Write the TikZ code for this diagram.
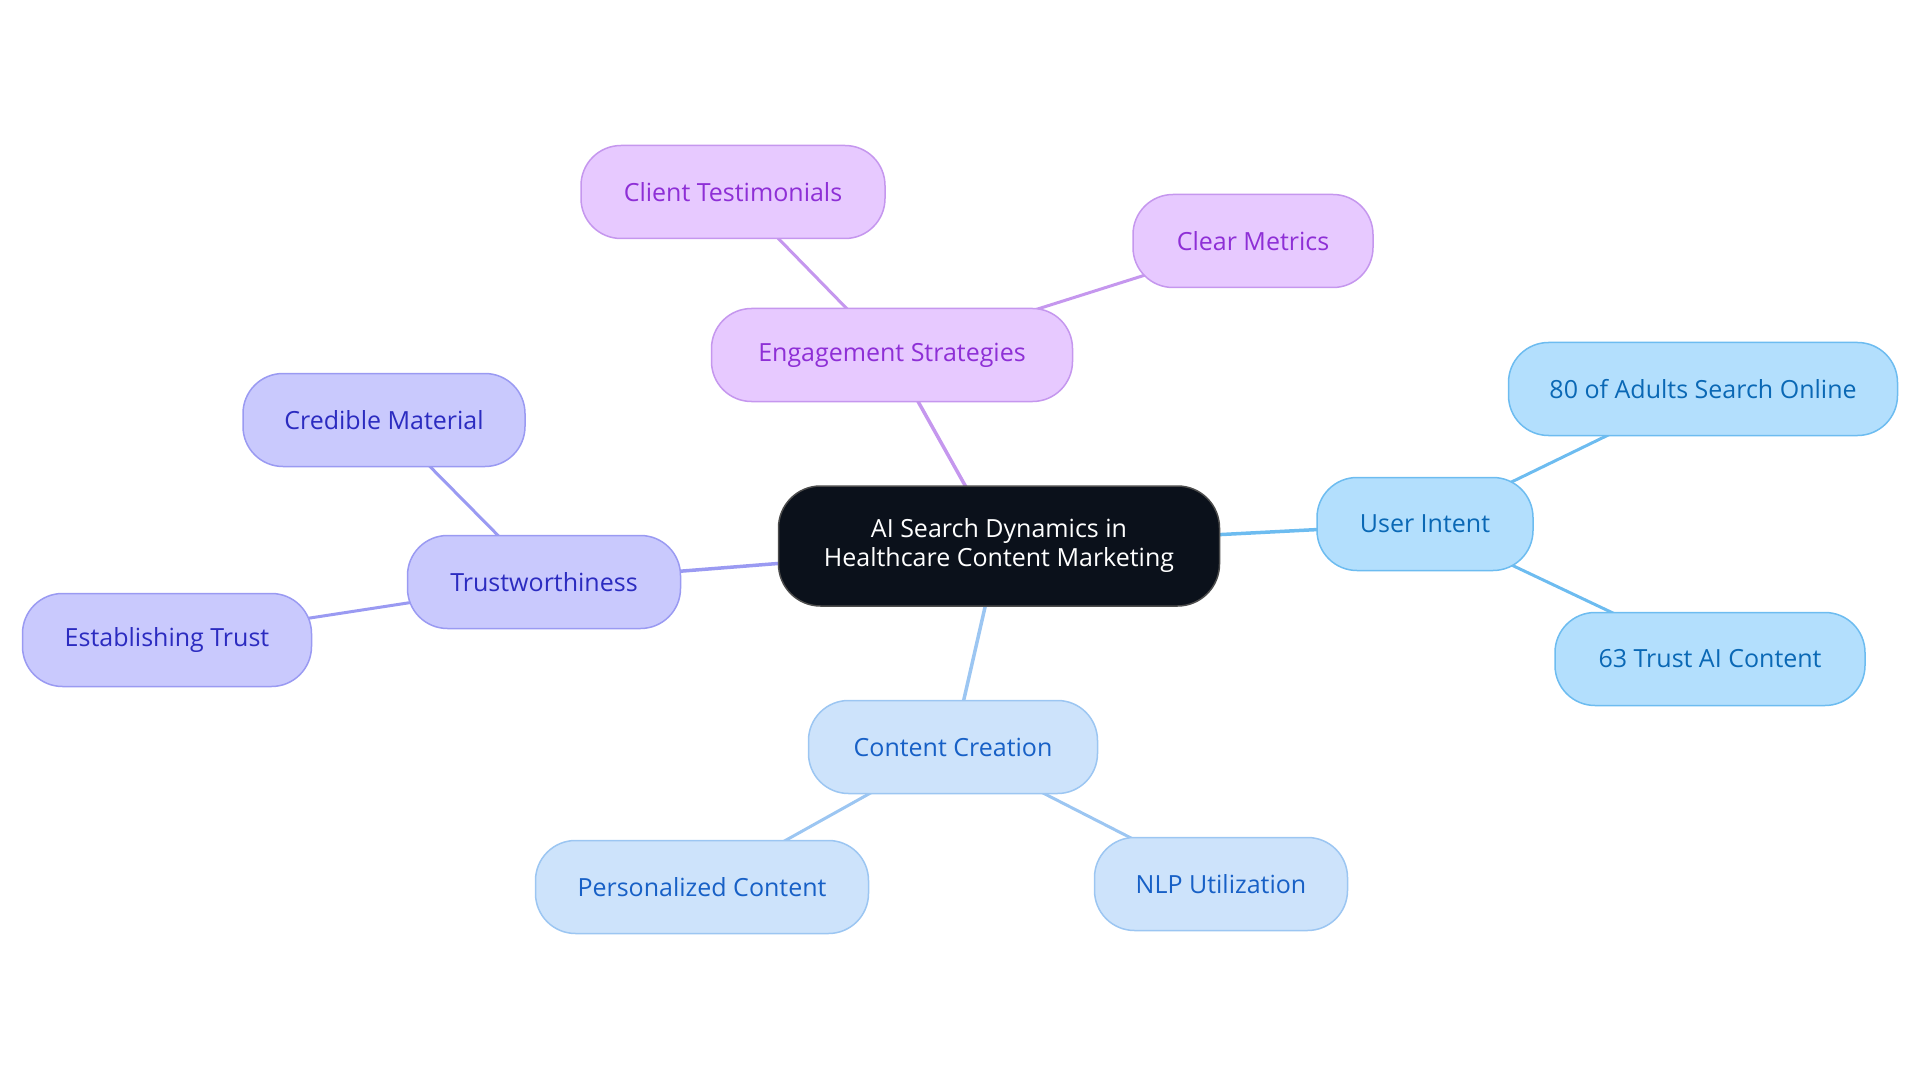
\documentclass[tikz,border=0pt]{standalone}
\usepackage{fontspec}
\setmainfont{Open Sans}
\usetikzlibrary{backgrounds}
\definecolor{purF}{HTML}{E7C9FF}
\definecolor{purD}{HTML}{C597EE}
\definecolor{purT}{HTML}{8E2FD6}
\definecolor{skyF}{HTML}{B3DFFD}
\definecolor{skyD}{HTML}{6DBCF0}
\definecolor{skyT}{HTML}{0A68B5}
\definecolor{lbF}{HTML}{CDE3FB}
\definecolor{lbD}{HTML}{9CC6F2}
\definecolor{lbT}{HTML}{1760C6}
\definecolor{indF}{HTML}{C9C9FD}
\definecolor{indD}{HTML}{9A9AF2}
\definecolor{indT}{HTML}{2B2BC0}
\definecolor{cenF}{HTML}{0B111B}
\tikzset{
  box/.style={rectangle, rounded corners=40pt, inner sep=0pt, minimum height=93pt,
    line width=1.5pt, font=\fontsize{25}{29}\selectfont, align=center},
  pur/.style={box, fill=purF, draw=purD, text=purT},
  sky/.style={box, fill=skyF, draw=skyD, text=skyT},
  lb/.style={box, fill=lbF, draw=lbD, text=lbT},
  ind/.style={box, fill=indF, draw=indD, text=indT},
  cen/.style={box, fill=cenF, draw=black!70, text=white, minimum height=120pt, rounded corners=42pt},
  link/.style={line width=3.5pt},
  sublink/.style={line width=3pt},
}
\begin{document}
\begin{tikzpicture}[x=1pt,y=-1pt]
\useasboundingbox (0,0) rectangle (1920,1083);
\node[pur, minimum width=361pt] (eng) at (892,355) {Engagement Strategies};
\node[pur, minimum width=304pt] (client) at (733,192) {Client Testimonials};
\node[pur, minimum width=240pt] (clear) at (1253,241) {Clear Metrics};
\node[sky, minimum width=216pt] (user) at (1425,524) {User Intent};
\node[sky, minimum width=389pt] (adults) at (1703,389) {80 of Adults Search Online};
\node[sky, minimum width=310pt] (trustai) at (1710,659) {63 Trust AI Content};
\node[lb, minimum width=289pt] (content) at (953,747) {Content Creation};
\node[lb, minimum width=333pt] (pers) at (702,887) {Personalized Content};
\node[lb, minimum width=253pt] (nlp) at (1221,884) {NLP Utilization};
\node[ind, minimum width=273pt] (trustw) at (544,582) {Trustworthiness};
\node[ind, minimum width=282pt] (cred) at (384,420) {Credible Material};
\node[ind, minimum width=289pt] (estab) at (167,640) {Establishing Trust};
\node[cen, minimum width=441pt] (center) at (999,546) {AI Search Dynamics in\\Healthcare Content Marketing};
\begin{scope}[on background layer]
\draw[link, draw=purD] (center.center) -- (eng.center);
\draw[sublink, draw=purD] (eng.center) -- (client.center);
\draw[sublink, draw=purD] (eng.center) -- (clear.center);
\draw[link, draw=skyD] (center.center) -- (user.center);
\draw[sublink, draw=skyD] (user.center) -- (adults.center);
\draw[sublink, draw=skyD] (user.center) -- (trustai.center);
\draw[link, draw=lbD] (center.center) -- (content.center);
\draw[sublink, draw=lbD] (content.center) -- (pers.center);
\draw[sublink, draw=lbD] (content.center) -- (nlp.center);
\draw[link, draw=indD] (center.center) -- (trustw.center);
\draw[sublink, draw=indD] (trustw.center) -- (cred.center);
\draw[sublink, draw=indD] (trustw.center) -- (estab.center);
\end{scope}
\end{tikzpicture}
\end{document}
